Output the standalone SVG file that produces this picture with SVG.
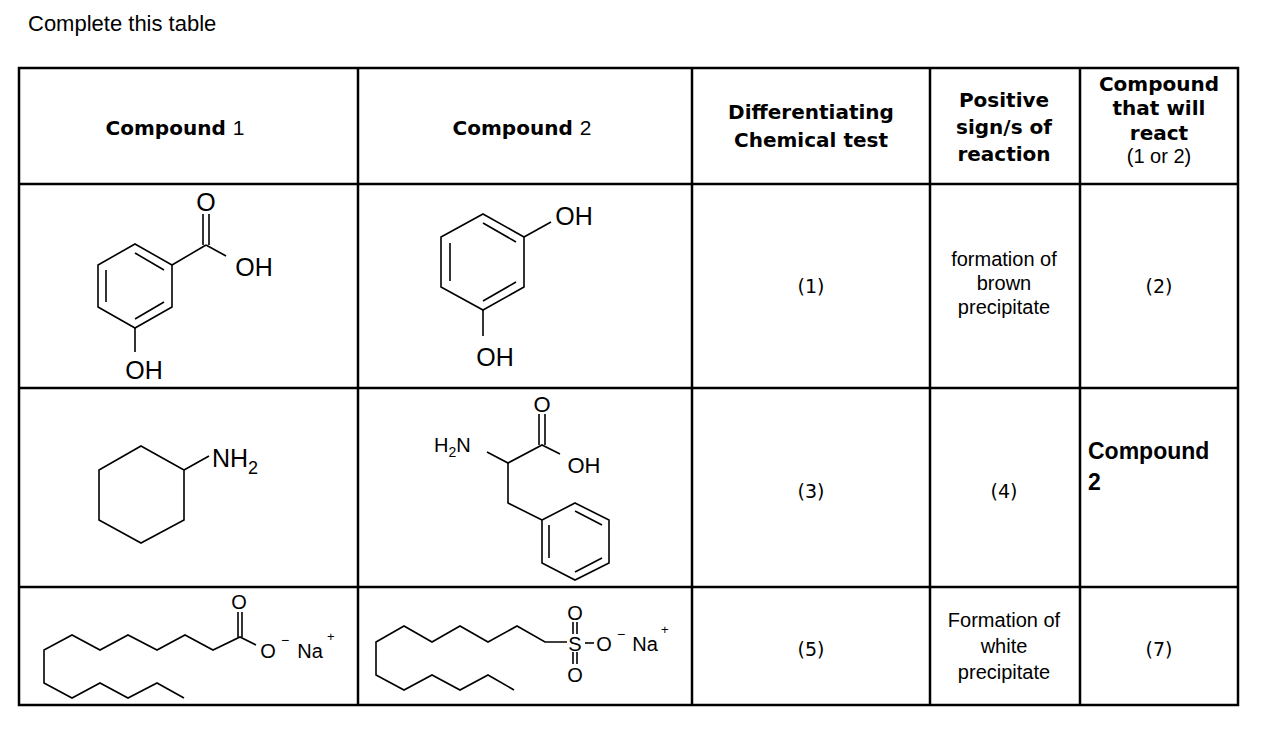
<svg xmlns="http://www.w3.org/2000/svg" width="1261" height="733" viewBox="0 0 1261 733">
<style>
.g{stroke:#000;stroke-width:2.5;fill:none}
.m{stroke:#000;stroke-width:1.6;fill:none;stroke-linejoin:miter}
.h{font-family:"DejaVu Sans",Verdana,sans-serif;font-weight:bold;font-size:20px;text-anchor:middle}
.r{font-family:"Liberation Sans",Arial,sans-serif;font-size:20px;text-anchor:middle}
.v{font-family:"DejaVu Sans",Verdana,sans-serif;font-size:19px;text-anchor:middle}
.c{font-family:"Liberation Sans",Arial,sans-serif;font-size:25px;text-anchor:middle}
.s{font-family:"Liberation Sans",Arial,sans-serif;font-size:20px;text-anchor:middle}
</style>
<rect width="1261" height="733" fill="#fff"/>
<text x="28" y="31" font-family="Liberation Sans,Arial,sans-serif" font-size="22">Complete this table</text>
<g id="grid" class="g">
<rect x="19" y="68" width="1219" height="637"/>
<line x1="19" y1="184" x2="1238" y2="184"/><line x1="19" y1="388" x2="1238" y2="388"/><line x1="19" y1="587" x2="1238" y2="587"/>
<line x1="358" y1="68" x2="358" y2="705"/><line x1="692" y1="68" x2="692" y2="705"/><line x1="930" y1="68" x2="930" y2="705"/><line x1="1080" y1="68" x2="1080" y2="705"/>
</g>
<g id="header">
<text x="175" y="135" class="h">Compound <tspan font-family="Liberation Sans,Arial,sans-serif" font-weight="normal" font-size="21">1</tspan></text>
<text x="522" y="135" class="h">Compound <tspan font-family="Liberation Sans,Arial,sans-serif" font-weight="normal" font-size="21">2</tspan></text>
<text x="811" y="119" class="h">Differentiating</text><text x="811" y="147" class="h">Chemical test</text>
<text x="1004" y="107" class="h">Positive</text><text x="1004" y="134" class="h">sign/s of</text><text x="1004" y="161" class="h">reaction</text>
<text x="1159" y="91" class="h">Compound</text><text x="1159" y="115" class="h">that will</text><text x="1159" y="140" class="h">react</text><text x="1159" y="163" class="r">(1 or 2)</text>
</g>
<g id="row1-text">
<text x="811" y="293" class="v">(1)</text>
<text x="1004" y="266" class="r">formation of</text><text x="1004" y="290" class="r">brown</text><text x="1004" y="314" class="r">precipitate</text>
<text x="1159" y="293" class="v">(2)</text>
</g>
<g id="row2-text">
<text x="811" y="498" class="v">(3)</text>
<text x="1004" y="498" class="v">(4)</text>
<text x="1088" y="459" font-family="Liberation Sans,Arial,sans-serif" font-weight="bold" font-size="23">Compound</text>
<text x="1088" y="490" font-family="Liberation Sans,Arial,sans-serif" font-weight="bold" font-size="23">2</text>
</g>
<g id="row3-text">
<text x="811" y="656" class="v">(5)</text>
<text x="1004" y="627" class="r">Formation of</text><text x="1004" y="653" class="r">white</text><text x="1004" y="679" class="r">precipitate</text>
<text x="1159" y="656" class="v">(7)</text>
</g>
<g id="compound-1a">
<polygon class="m" points="135,244 172,265 172,307 135,328 98,307 98,265"/>
<line class="m" x1="106" y1="270" x2="106" y2="302"/><line class="m" x1="135" y1="253" x2="164" y2="270"/><line class="m" x1="135" y1="319" x2="164" y2="302"/>
<line class="m" x1="172" y1="265" x2="206" y2="245"/>
<line class="m" x1="203" y1="245" x2="203" y2="214"/><line class="m" x1="209" y1="245" x2="209" y2="214"/>
<line class="m" x1="206" y1="245" x2="226" y2="256"/>
<line class="m" x1="135" y1="328" x2="135" y2="352"/>
<text x="206" y="211" class="c">O</text><text x="254" y="276" class="c">OH</text><text x="144" y="379" class="c">OH</text>
</g>
<g id="compound-2a">
<polygon class="m" points="483,214 524,237 524,287 483,310 441,287 441,237"/>
<line class="m" x1="450" y1="243" x2="450" y2="281"/><line class="m" x1="483" y1="223" x2="516" y2="242"/><line class="m" x1="483" y1="301" x2="516" y2="282"/>
<line class="m" x1="524" y1="237" x2="551" y2="222"/>
<line class="m" x1="483" y1="310" x2="483" y2="336"/>
<text x="574" y="225" class="c">OH</text><text x="495" y="366" class="c">OH</text>
</g>
<g id="compound-1b">
<polygon class="m" points="141,446 184,470 184,520 141,543 99,520 99,470"/>
<line class="m" x1="184" y1="470" x2="209" y2="456"/>
<text x="212" y="467" font-family="Liberation Sans,Arial,sans-serif" font-size="25">NH<tspan font-size="18" dy="7">2</tspan></text>
</g>
<g id="compound-2b">
<text x="434" y="452" font-family="Liberation Sans,Arial,sans-serif" font-size="20">H<tspan font-size="14" dy="5">2</tspan><tspan dy="-5">N</tspan></text>
<polyline class="m" points="487,452 508,463 542,445 560,454"/>
<line class="m" x1="539" y1="445" x2="539" y2="414"/><line class="m" x1="545" y1="445" x2="545" y2="414"/>
<polyline class="m" points="508,463 508,503 542,520"/>
<polygon class="m" points="575,503 609,520 609,563 575,580 542,563 542,520"/>
<line class="m" x1="549" y1="525" x2="549" y2="558"/><line class="m" x1="575" y1="511" x2="602" y2="525"/><line class="m" x1="575" y1="572" x2="602" y2="558"/>
<text x="542" y="412" font-family="Liberation Sans,Arial,sans-serif" font-size="22" text-anchor="middle">O</text>
<text x="584" y="473" font-family="Liberation Sans,Arial,sans-serif" font-size="22" text-anchor="middle">OH</text>
</g>
<g id="compound-1c">
<polyline class="m" points="256,645 240,637 213,650 185,635 157,650 128,635 100,650 72,635 44,650 44,683 72,698 100,683 128,698 157,683 184,698"/>
<line class="m" x1="238" y1="637" x2="238" y2="612"/><line class="m" x1="242" y1="637" x2="242" y2="612"/>
<text x="239" y="609" class="s">O</text>
<text x="268" y="658" class="s">O</text><text x="281" y="645" font-family="Liberation Sans,Arial,sans-serif" font-size="14">−</text>
<text x="310" y="658" class="s">Na</text><text x="327" y="641" font-family="Liberation Sans,Arial,sans-serif" font-size="13">+</text>
</g>
<g id="compound-2c">
<polyline class="m" points="567,642 545,642 517,626 488,642 460,626 432,642 404,626 376,642 376,675 404,690 432,675 460,690 488,675 514,690"/>
<line class="m" x1="573" y1="622" x2="573" y2="634"/><line class="m" x1="577" y1="622" x2="577" y2="634"/>
<line class="m" x1="573" y1="652" x2="573" y2="664"/><line class="m" x1="577" y1="652" x2="577" y2="664"/>
<line class="m" x1="585" y1="643" x2="594" y2="643"/>
<text x="575" y="620" class="s">O</text><text x="575" y="651" class="s">S</text><text x="575" y="682" class="s">O</text>
<text x="604" y="651" class="s">O</text><text x="617" y="639" font-family="Liberation Sans,Arial,sans-serif" font-size="14">−</text>
<text x="645" y="651" class="s">Na</text><text x="661" y="634" font-family="Liberation Sans,Arial,sans-serif" font-size="13">+</text>
</g>
</svg>
